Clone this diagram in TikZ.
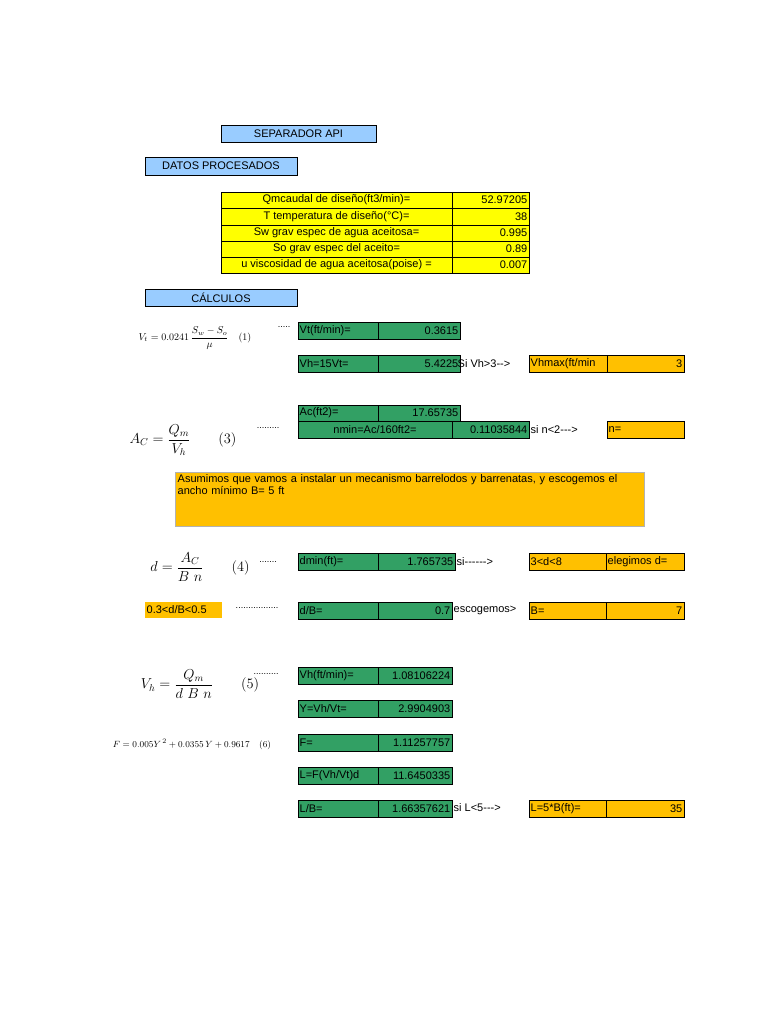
\documentclass[tikz,border=0pt]{standalone}
\usepackage{amsmath}
\usepackage{fontspec}
\newfontfamily\cell{Liberation Sans}
\begin{document}
\begin{tikzpicture}[x=1pt,y=-1pt,
 c/.style={draw=black,line width=0.8pt,inner sep=0pt},
 t/.style={font=\cell\fontsize{11}{12}\selectfont,inner sep=1.5pt}]
\definecolor{gr}{RGB}{50,160,100}
\definecolor{yl}{RGB}{255,255,0}
\definecolor{or}{RGB}{255,192,0}
\definecolor{lb}{RGB}{153,204,255}
\useasboundingbox (0,0) rectangle (768,1024);
\fill[white] (0,0) rectangle (768,1024);
\newcommand\Ccell[7]{%
 \filldraw[c,fill=#6] (#2,#3) rectangle (#4,#5);
 \node[t] (#1) at ({(#2+#4)/2},{(#3+#5)/2}) {#7};}
\newcommand\Lcell[7]{\filldraw[c,fill=#6] (#2,#3) rectangle (#4,#5);
 \node[t,anchor=west] (#1) at (#2,{(#3+#5)/2}) {#7};}
\newcommand\Rcell[7]{\filldraw[c,fill=#6] (#2,#3) rectangle (#4,#5);
 \node[t,anchor=east] (#1) at (#4,{(#3+#5)/2}) {#7};}
\newcommand\Txt[4]{\node[t,anchor=west] (#1) at (#2,#3) {#4};}
\Ccell{sep}{221}{125}{376}{142}{lb}{SEPARADOR API}
\Ccell{dat}{145}{157}{297}{175}{lb}{DATOS PROCESADOS}
\Ccell{q1}{221}{192}{452}{208}{yl}{Qmcaudal de diseño(ft3/min)=}
\Rcell{q2}{452}{192}{529}{208}{yl}{52.97205}
\Ccell{t1}{221}{208}{452}{225}{yl}{T temperatura de diseño(°C)=}
\Rcell{t2}{452}{208}{529}{225}{yl}{38}
\Ccell{s1}{221}{225}{452}{241}{yl}{Sw grav espec de agua aceitosa=}
\Rcell{s2}{452}{225}{529}{241}{yl}{0.995}
\Ccell{o1}{221}{241}{452}{257}{yl}{So grav espec del aceito=}
\Rcell{o2}{452}{241}{529}{257}{yl}{0.89}
\Ccell{u1}{221}{257}{452}{273}{yl}{u viscosidad de agua aceitosa(poise) =}
\Rcell{u2}{452}{257}{529}{273}{yl}{0.007}
\Ccell{cal}{145}{289}{297}{306}{lb}{CÁLCULOS}
\node (f1) at (195,338) {\fontsize{10}{12}\selectfont $V_t=0.0241\,\dfrac{S_w-S_o}{\mu}\quad(1)$};
\node (f3) at (183,440) {\fontsize{14}{16}\selectfont $A_C=\dfrac{Q_m}{V_h}\qquad(3)$};
\node (f4) at (200,567) {\fontsize{14}{16}\selectfont $d=\dfrac{A_C}{B\ n}\qquad(4)$};
\node (f5) at (200,684) {\fontsize{14}{16}\selectfont $V_h=\dfrac{Q_m}{d\ B\ n}\qquad(5)$};
\node (f6) at (192,744) {\fontsize{9.5}{11}\selectfont $F=0.005Y^{\,2}+0.0355\,Y+0.9617\quad(6)$};
\node[font=\cell\fontsize{9}{10}\selectfont] at (284,327) {.....};
\node[font=\cell\fontsize{9}{10}\selectfont] at (268,428) {.........};
\node[font=\cell\fontsize{9}{10}\selectfont] at (268,562) {.......};
\node[font=\cell\fontsize{9}{10}\selectfont] at (257,608) {.................};
\node[font=\cell\fontsize{9}{10}\selectfont] at (266,674) {..........};
\Lcell{vt1}{298}{322}{378}{339}{gr}{Vt(ft/min)=}
\Rcell{vt2}{378}{322}{460}{339}{gr}{0.3615}
\Lcell{vh1}{298}{355}{378}{372}{gr}{Vh=15Vt=}
\Rcell{vh2}{378}{355}{460}{372}{gr}{5.4225}
\Txt{si1}{456}{364}{Si Vh>3-->}
\Lcell{vm1}{529}{355}{607}{372}{or}{Vhmax(ft/min}
\Rcell{vm2}{607}{355}{684}{372}{or}{3}
\Lcell{ac1}{298}{405}{378}{421}{gr}{Ac(ft2)=}
\Rcell{ac2}{378}{405}{460}{421}{gr}{17.65735}
\Ccell{nm1}{298}{421}{452}{438}{gr}{nmin=Ac/160ft2=}
\Rcell{nm2}{452}{421}{529}{438}{gr}{0.11035844}
\Txt{si2}{529}{430}{si n<2--->}
\Lcell{n1}{607}{421}{684}{438}{or}{n=}
\filldraw[fill=or,draw=black!30,line width=0.5pt] (175,472) rectangle (644,526);
\node[t,anchor=north west,text width=460pt,align=left] (box) at (176,473) {Asumimos que vamos a instalar un mecanismo barrelodos y barrenatas, y escogemos el ancho mínimo B= 5 ft};
\Lcell{dm1}{298}{553}{378}{570}{gr}{dmin(ft)=}
\Rcell{dm2}{378}{553}{455}{570}{gr}{1.765735}
\Txt{si3}{455}{562}{si------>}
\Lcell{d1}{529}{553}{606}{570}{or}{3<d<8}
\Lcell{d2}{606}{553}{684}{570}{or}{elegimos d=}
\fill[or] (145,602) rectangle (222,618);
\node[t,anchor=west] (rng) at (145,610) {0.3<d/B<0.5};
\Lcell{db1}{298}{602}{378}{619}{gr}{d/B=}
\Rcell{db2}{378}{602}{452}{619}{gr}{0.7}
\Txt{esc}{452}{610}{escogemos>}
\Lcell{b1}{529}{602}{606}{619}{or}{B=}
\Rcell{b2}{606}{602}{684}{619}{or}{7}
\Lcell{v1}{298}{667}{378}{684}{gr}{Vh(ft/min)=}
\Rcell{v2}{378}{667}{452}{684}{gr}{1.08106224}
\Lcell{y1}{298}{700}{378}{717}{gr}{Y=Vh/Vt=}
\Rcell{y2}{378}{700}{452}{717}{gr}{2.9904903}
\Lcell{fF1}{298}{734}{378}{751}{gr}{F=}
\Rcell{fF2}{378}{734}{452}{751}{gr}{1.11257757}
\Lcell{l1}{298}{767}{378}{784}{gr}{L=F(Vh/Vt)d}
\Rcell{l2}{378}{767}{452}{784}{gr}{11.6450335}
\Lcell{lb1}{298}{800}{378}{817}{gr}{L/B=}
\Rcell{lb2}{378}{800}{452}{817}{gr}{1.66357621}
\Txt{si4}{452}{808}{si L<5--->}
\Lcell{L1}{529}{800}{606}{817}{or}{L=5*B(ft)=}
\Rcell{L2}{606}{800}{684}{817}{or}{35}
\end{tikzpicture}
\end{document}
